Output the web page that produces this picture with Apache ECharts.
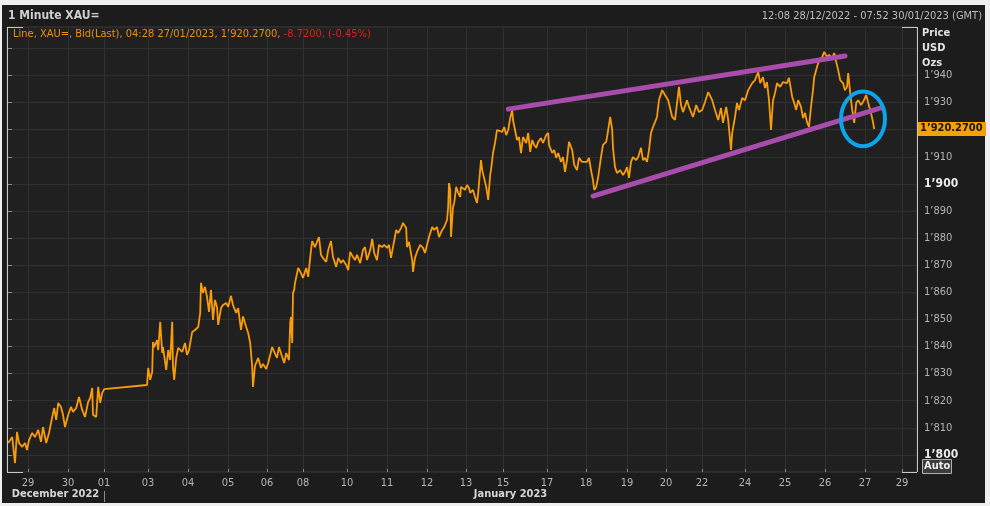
<!DOCTYPE html>
<html><head><meta charset="utf-8">
<script src="https://cdn.jsdelivr.net/npm/echarts@6/dist/echarts.min.js"></script>
<style>
html,body{margin:0;padding:0;background:#efefef;}
#panel{position:absolute;left:2px;top:5px;width:983px;height:498px;background:#1c1c1c;}
#chart{position:absolute;left:0;top:0;width:990px;height:506px;}
</style></head><body>
<div id="panel"></div><div id="chart"></div>
<script>
// ---- data (x: trading-day offset on the compressed session axis, y: USD/oz) ----
const dayTickPos = [0.525, 1.525, 2.425, 3.525, 4.525, 5.525, 6.5, 7.4, 8.5, 9.5, 10.5, 11.475, 12.4, 13.5, 14.475, 15.5, 16.475, 17.375, 18.45, 19.45, 20.45, 21.45, 22.375];
const dayTickLabels = ['29','30','01','03','04','05','06','08','10','11','12','13','15','17','18','19','20','22','24','25','26','27','29'];
const monthBounds = [0, 2.425, 22.75];
const monthLabels = ['December 2022', 'January 2023'];
const priceTicks = [1800,1810,1820,1830,1840,1850,1860,1870,1880,1890,1900,1910,1920,1930,1940,1950];
const priceLabels = [1800,1810,1820,1830,1840,1850,1860,1870,1880,1890,1900,1910,1930,1940];
const lastPrice = 1920.27;
const bidXAU = [
[0.03,1804.4],[0.08,1805.5],[0.13,1806.6],[0.20,1797.0],[0.25,1808.5],[0.30,1804.4],[0.38,1803.0],[0.45,1804.4],[0.50,1801.8],[0.55,1805.5],
[0.63,1808.1],[0.70,1806.6],[0.78,1809.2],[0.85,1804.8],[0.90,1810.3],[0.98,1804.4],[1.05,1808.1],[1.13,1814.0],[1.18,1817.3],[1.23,1812.9],
[1.28,1819.2],[1.35,1817.7],[1.40,1814.8],[1.45,1810.3],[1.53,1814.8],[1.60,1817.7],[1.65,1815.9],[1.73,1817.3],[1.80,1821.4],[1.88,1816.6],
[1.95,1814.0],[2.03,1819.6],[2.08,1821.0],[2.13,1824.7],[2.15,1814.8],[2.23,1814.0],[2.28,1825.1],[2.33,1819.2],[2.38,1822.9],[2.43,1824.3],
[3.50,1825.8],[3.53,1832.1],[3.58,1827.7],[3.63,1830.6],[3.65,1841.7],[3.68,1839.8],[3.75,1842.4],[3.78,1838.7],[3.83,1849.1],[3.88,1837.6],
[3.90,1839.8],[3.98,1831.4],[4.03,1838.7],[4.08,1835.0],[4.13,1849.1],[4.15,1832.5],[4.18,1827.7],[4.23,1835.8],[4.28,1839.5],[4.38,1838.0],
[4.45,1841.3],[4.50,1836.9],[4.55,1838.7],[4.63,1845.4],[4.70,1846.1],[4.78,1847.2],[4.83,1852.4],[4.85,1863.5],[4.90,1859.8],[4.95,1862.0],
[5.00,1858.3],[5.05,1852.8],[5.10,1860.9],[5.15,1849.8],[5.20,1857.2],[5.25,1854.6],[5.28,1848.0],[5.35,1854.2],[5.40,1855.3],[5.48,1856.1],
[5.53,1854.6],[5.60,1858.7],[5.65,1855.3],[5.73,1852.4],[5.78,1854.2],[5.85,1846.1],[5.90,1851.1],[5.98,1847.2],[6.03,1845.0],[6.08,1841.3],
[6.13,1832.5],[6.15,1825.1],[6.20,1832.9],[6.28,1835.8],[6.35,1832.1],[6.40,1833.6],[6.48,1831.7],[6.53,1833.9],[6.63,1839.8],[6.68,1838.0],
[6.75,1835.8],[6.80,1839.8],[6.88,1836.1],[6.93,1833.9],[6.98,1837.6],[7.05,1835.0],[7.08,1848.7],[7.10,1850.9],[7.13,1841.3],[7.15,1859.8],
[7.18,1860.9],[7.20,1863.5],[7.28,1869.0],[7.35,1867.1],[7.40,1865.3],[7.48,1869.0],[7.53,1865.7],[7.60,1875.6],[7.63,1878.9],[7.70,1876.7],
[7.75,1878.6],[7.80,1880.4],[7.85,1873.8],[7.90,1872.7],[7.98,1871.2],[8.03,1875.6],[8.10,1878.9],[8.15,1873.0],[8.23,1869.4],[8.28,1872.7],
[8.35,1870.8],[8.40,1871.9],[8.48,1870.1],[8.53,1868.2],[8.58,1874.9],[8.65,1873.0],[8.70,1871.9],[8.75,1873.8],[8.83,1870.8],[8.90,1875.6],
[8.95,1876.7],[9.00,1871.9],[9.08,1875.6],[9.13,1879.7],[9.18,1874.5],[9.25,1871.9],[9.30,1877.5],[9.38,1876.7],[9.43,1877.5],[9.50,1876.4],
[9.55,1877.5],[9.60,1872.7],[9.65,1876.7],[9.73,1883.0],[9.78,1881.9],[9.85,1883.7],[9.90,1885.6],[9.98,1883.7],[10.00,1876.7],[10.05,1878.6],
[10.13,1871.9],[10.15,1867.5],[10.20,1872.7],[10.25,1874.9],[10.33,1877.5],[10.40,1876.4],[10.45,1874.5],[10.50,1877.5],[10.55,1880.4],[10.63,1884.1],
[10.68,1883.0],[10.75,1884.1],[10.80,1880.4],[10.88,1883.0],[10.93,1884.1],[11.00,1886.7],[11.03,1891.5],[11.05,1900.3],[11.08,1897.8],[11.10,1880.4],
[11.15,1891.5],[11.18,1893.0],[11.23,1898.9],[11.28,1896.7],[11.33,1895.2],[11.35,1898.9],[11.40,1898.5],[11.45,1897.8],[11.50,1899.6],[11.55,1898.5],
[11.58,1896.7],[11.65,1897.8],[11.70,1895.2],[11.75,1893.0],[11.78,1896.7],[11.85,1908.8],[11.88,1905.1],[11.90,1904.4],[11.98,1898.9],[12.03,1894.1],
[12.08,1903.4],[12.10,1905.1],[12.15,1911.4],[12.20,1915.1],[12.25,1919.9],[12.30,1920.6],[12.38,1919.2],[12.43,1921.0],[12.48,1918.0],[12.53,1919.9],
[12.58,1924.3],[12.63,1927.3],[12.65,1923.6],[12.70,1919.9],[12.75,1916.2],[12.80,1917.3],[12.85,1911.4],[12.90,1917.3],[12.98,1915.1],[13.03,1918.8],
[13.08,1911.8],[13.13,1916.2],[13.18,1914.4],[13.23,1913.3],[13.28,1915.5],[13.35,1916.9],[13.40,1915.1],[13.48,1918.0],[13.53,1918.8],[13.55,1914.4],
[13.63,1911.4],[13.68,1912.5],[13.73,1909.6],[13.78,1911.4],[13.85,1908.1],[13.90,1909.9],[13.95,1904.4],[14.00,1908.8],[14.05,1915.5],[14.13,1912.5],
[14.18,1907.0],[14.25,1905.1],[14.30,1909.6],[14.38,1908.1],[14.43,1908.8],[14.50,1908.1],[14.55,1909.6],[14.60,1905.1],[14.65,1901.4],[14.68,1897.8],
[14.73,1898.9],[14.78,1902.6],[14.85,1909.9],[14.90,1914.4],[14.98,1915.5],[15.03,1919.9],[15.08,1924.7],[15.13,1919.9],[15.15,1913.3],[15.20,1906.2],
[15.25,1904.0],[15.33,1905.1],[15.40,1903.3],[15.45,1904.4],[15.50,1906.2],[15.55,1902.2],[15.60,1908.1],[15.65,1909.9],[15.73,1908.8],[15.78,1909.9],
[15.85,1913.3],[15.90,1908.8],[15.95,1909.6],[16.00,1908.1],[16.05,1912.5],[16.10,1918.8],[16.15,1921.0],[16.20,1922.8],[16.25,1924.7],[16.30,1931.0],
[16.38,1934.6],[16.45,1932.8],[16.53,1930.9],[16.63,1924.7],[16.70,1923.6],[16.80,1935.8],[16.85,1929.1],[16.90,1926.5],[17.00,1930.9],[17.05,1928.4],
[17.15,1924.7],[17.23,1929.1],[17.30,1926.5],[17.38,1927.3],[17.45,1930.2],[17.53,1933.9],[17.63,1930.9],[17.70,1927.3],[17.78,1923.6],[17.85,1928.0],
[17.90,1922.5],[17.98,1928.4],[18.03,1923.6],[18.10,1912.5],[18.13,1918.8],[18.20,1924.7],[18.25,1929.9],[18.30,1927.3],[18.38,1931.7],[18.45,1930.9],
[18.53,1934.6],[18.63,1937.2],[18.70,1938.3],[18.78,1941.3],[18.83,1937.2],[18.90,1939.4],[18.95,1935.4],[19.00,1937.6],[19.05,1930.9],[19.10,1919.9],
[19.15,1930.9],[19.20,1933.5],[19.25,1937.2],[19.33,1935.8],[19.40,1937.6],[19.50,1937.2],[19.55,1939.1],[19.63,1932.1],[19.68,1929.9],[19.73,1927.3],
[19.78,1930.9],[19.85,1928.4],[19.90,1924.3],[19.95,1926.2],[20.00,1922.8],[20.05,1921.0],[20.10,1928.4],[20.15,1934.6],[20.18,1939.4],[20.25,1943.1],
[20.30,1945.7],[20.38,1946.8],[20.43,1948.7],[20.50,1946.8],[20.55,1947.6],[20.63,1946.5],[20.68,1948.3],[20.73,1945.0],[20.78,1942.0],[20.83,1938.3],
[20.90,1937.2],[20.95,1934.6],[21.00,1935.8],[21.03,1940.9],[21.08,1933.5],[21.13,1927.3],[21.18,1922.5],[21.23,1929.9],[21.28,1930.9],[21.35,1929.1],
[21.40,1930.2],[21.48,1932.8],[21.53,1929.9],[21.60,1926.2],[21.65,1922.8],[21.68,1920.27]
];
const upperTrend = [[12.53,1927.6],[20.95,1947.2]];
const lowerTrend = [[14.65,1895.5],[21.83,1928.0]];
const highlightEllipse = [[21.4,1924.0,0.55,10.1]]; // centre day, centre price, half-width (days), half-height (USD)

// ---- layout ----
const X_MIN = 0, X_MAX = 22.75, Y_MIN = 1793.7, Y_MAX = 1957.9;
const W = 990, H = 506;
const G = {left: 7, top: 27, right: 73, bottom: 34};
const gx0 = G.left, gx1 = W - G.right, gy0 = G.top, gy1 = H - G.bottom;
const FONT = '"DejaVu Sans Condensed", "Liberation Sans", sans-serif';
const monthCenters = monthLabels.map((_, i) => (monthBounds[i] + monthBounds[i + 1]) / 2);

function nearestLabel(v, pos, labels) {
  let best = 0, d = Infinity;
  pos.forEach((p, i) => { const dd = Math.abs(p - v); if (dd < d) { d = dd; best = i; } });
  return labels[best];
}
function fmtPrice(v) { const s = String(Math.round(v)); return s[0] + '\u2019' + s.slice(1); }

const chart = echarts.init(document.getElementById('chart'), null, {renderer: 'canvas'});
const option = {
  animation: false,
  backgroundColor: 'transparent',
  textStyle: {fontFamily: FONT},
  title: {
    text: '{o|Line, XAU=, Bid(Last), 04:28 27/01/2023, 1\u2019920.2700, }{r|-8.7200, (-0.45%)}',
    left: 13, top: 29, padding: 0,
    textStyle: {fontFamily: FONT, fontSize: 11, fontWeight: 'normal',
      rich: {o: {color: '#e8920c', fontSize: 11, fontFamily: FONT}, r: {color: '#e0201c', fontSize: 11, fontFamily: FONT}}}
  },
  grid: {left: G.left, top: G.top, right: G.right, bottom: G.bottom, show: true,
    backgroundColor: '#202020', borderColor: '#3a3a3a', borderWidth: 1},
  xAxis: [{
    type: 'value', min: X_MIN, max: X_MAX, position: 'bottom',
    axisLine: {show: false},
    axisTick: {show: true, inside: true, length: 3, customValues: dayTickPos, lineStyle: {color: '#8a8a8a'}},
    axisLabel: {customValues: dayTickPos, formatter: v => nearestLabel(v, dayTickPos, dayTickLabels),
      color: '#b4b4b4', fontSize: 11, margin: 6, fontFamily: FONT},
    splitLine: {show: true, lineStyle: {color: '#303030', width: 1}}
  }, {
    type: 'value', min: X_MIN, max: X_MAX, position: 'bottom', offset: 19,
    axisLine: {show: false},
    axisTick: {show: true, inside: false, length: 11, customValues: [monthBounds[1]], lineStyle: {color: '#8a8a8a'}},
    axisLabel: {customValues: monthCenters, formatter: v => nearestLabel(v, monthCenters, monthLabels),
      color: '#d6d6d6', fontSize: 11, fontWeight: 'bold', margin: -2, fontFamily: FONT},
    splitLine: {show: false}
  }],
  yAxis: {
    type: 'value', position: 'right', min: Y_MIN, max: Y_MAX,
    axisLine: {show: false},
    axisTick: {show: true, length: 5, customValues: priceTicks, lineStyle: {color: '#8a8a8a'}},
    axisLabel: {customValues: priceLabels, margin: 7, color: '#b4b4b4', fontSize: 11, fontFamily: FONT,
      formatter: v => (Math.round(v) % 100 === 0 ? '{b|' + fmtPrice(v) + '}' : fmtPrice(v)),
      rich: {b: {fontWeight: 'bold', color: '#ececec', fontSize: 12, fontFamily: FONT}}},
    splitLine: {show: true, lineStyle: {color: '#303030', width: 1}}
  },
  series: [{
    type: 'line', data: bidXAU, showSymbol: false, symbol: 'none',
    lineStyle: {color: '#f99c08', width: 1.8, join: 'bevel'}, z: 3
  }, {
    type: 'line', data: upperTrend, showSymbol: false, symbol: 'none',
    lineStyle: {color: '#a84dab', width: 5, cap: 'round'}, z: 4
  }, {
    type: 'line', data: lowerTrend, showSymbol: false, symbol: 'none',
    lineStyle: {color: '#a84dab', width: 5, cap: 'round'}, z: 4
  }, {
    type: 'custom', data: highlightEllipse, z: 5,
    renderItem: (params, api) => {
      const c = api.coord([api.value(0), api.value(1)]);
      const s = api.size([api.value(2), api.value(3)]);
      return {type: 'ellipse', shape: {cx: c[0], cy: c[1], rx: s[0], ry: s[1]},
        style: {fill: null, stroke: '#0ea3ea', lineWidth: 4}};
    }
  }]
};
chart.setOption(option);

const lastY = chart.convertToPixel({yAxisIndex: 0}, lastPrice);
const bright = '#c8c8c8';
chart.setOption({
  graphic: [
    {type: 'text', left: 8, top: 10, style: {text: '1 Minute XAU=', fill: '#cfcfcf', font: 'bold 12px ' + FONT}},
    {type: 'text', right: 8, top: 11, style: {text: '12:08 28/12/2022 - 07:52 30/01/2023 (GMT)', fill: '#bdbdbd', font: '11px ' + FONT}},
    {type: 'text', left: gx1 + 5, top: 28, style: {text: 'Price', fill: '#e2e2e2', font: 'bold 11px ' + FONT}},
    {type: 'text', left: gx1 + 5, top: 43, style: {text: 'USD', fill: '#e2e2e2', font: 'bold 11px ' + FONT}},
    {type: 'text', left: gx1 + 5, top: 58, style: {text: 'Ozs', fill: '#e2e2e2', font: 'bold 11px ' + FONT}},
    {type: 'line', shape: {x1: gx0 + 0.5, y1: gy0, x2: gx0 + 0.5, y2: gy1}, style: {stroke: bright, lineWidth: 1}, z: 10},
    {type: 'line', shape: {x1: gx1 + 0.5, y1: gy0, x2: gx1 + 0.5, y2: gy1}, style: {stroke: bright, lineWidth: 1}, z: 10},
    {type: 'line', shape: {x1: gx0, y1: gy0 + 0.5, x2: gx0 + 16, y2: gy0 + 0.5}, style: {stroke: bright, lineWidth: 1}, z: 10},
    {type: 'line', shape: {x1: gx0, y1: gy1 + 0.5, x2: gx0 + 16, y2: gy1 + 0.5}, style: {stroke: bright, lineWidth: 1}, z: 10},
    {type: 'line', shape: {x1: gx1 - 15, y1: gy0 + 0.5, x2: gx1, y2: gy0 + 0.5}, style: {stroke: bright, lineWidth: 1}, z: 10},
    {type: 'line', shape: {x1: gx1 - 15, y1: gy1 + 0.5, x2: gx1, y2: gy1 + 0.5}, style: {stroke: bright, lineWidth: 1}, z: 10},
    {type: 'group', left: gx1 + 1, top: Math.round(lastY) - 7, z: 20, children: [
      {type: 'rect', shape: {x: 0, y: 0, width: 68, height: 14}, style: {fill: '#f7a100'}},
      {type: 'text', x: 2, y: 1, style: {text: '1\u2019920.2700', fill: '#151515', font: 'bold 11px ' + FONT}}
    ]},
    {type: 'group', left: gx1 + 5, top: gy1 - 13, z: 20, children: [
      {type: 'rect', shape: {x: 0.5, y: 0.5, width: 29, height: 14}, style: {fill: '#3c3c3c', stroke: '#b0b0b0', lineWidth: 1}},
      {type: 'text', x: 2, y: 2, style: {text: 'Auto', fill: '#eeeeee', font: 'bold 11px ' + FONT}}
    ]}
  ]
});
</script></body></html>
